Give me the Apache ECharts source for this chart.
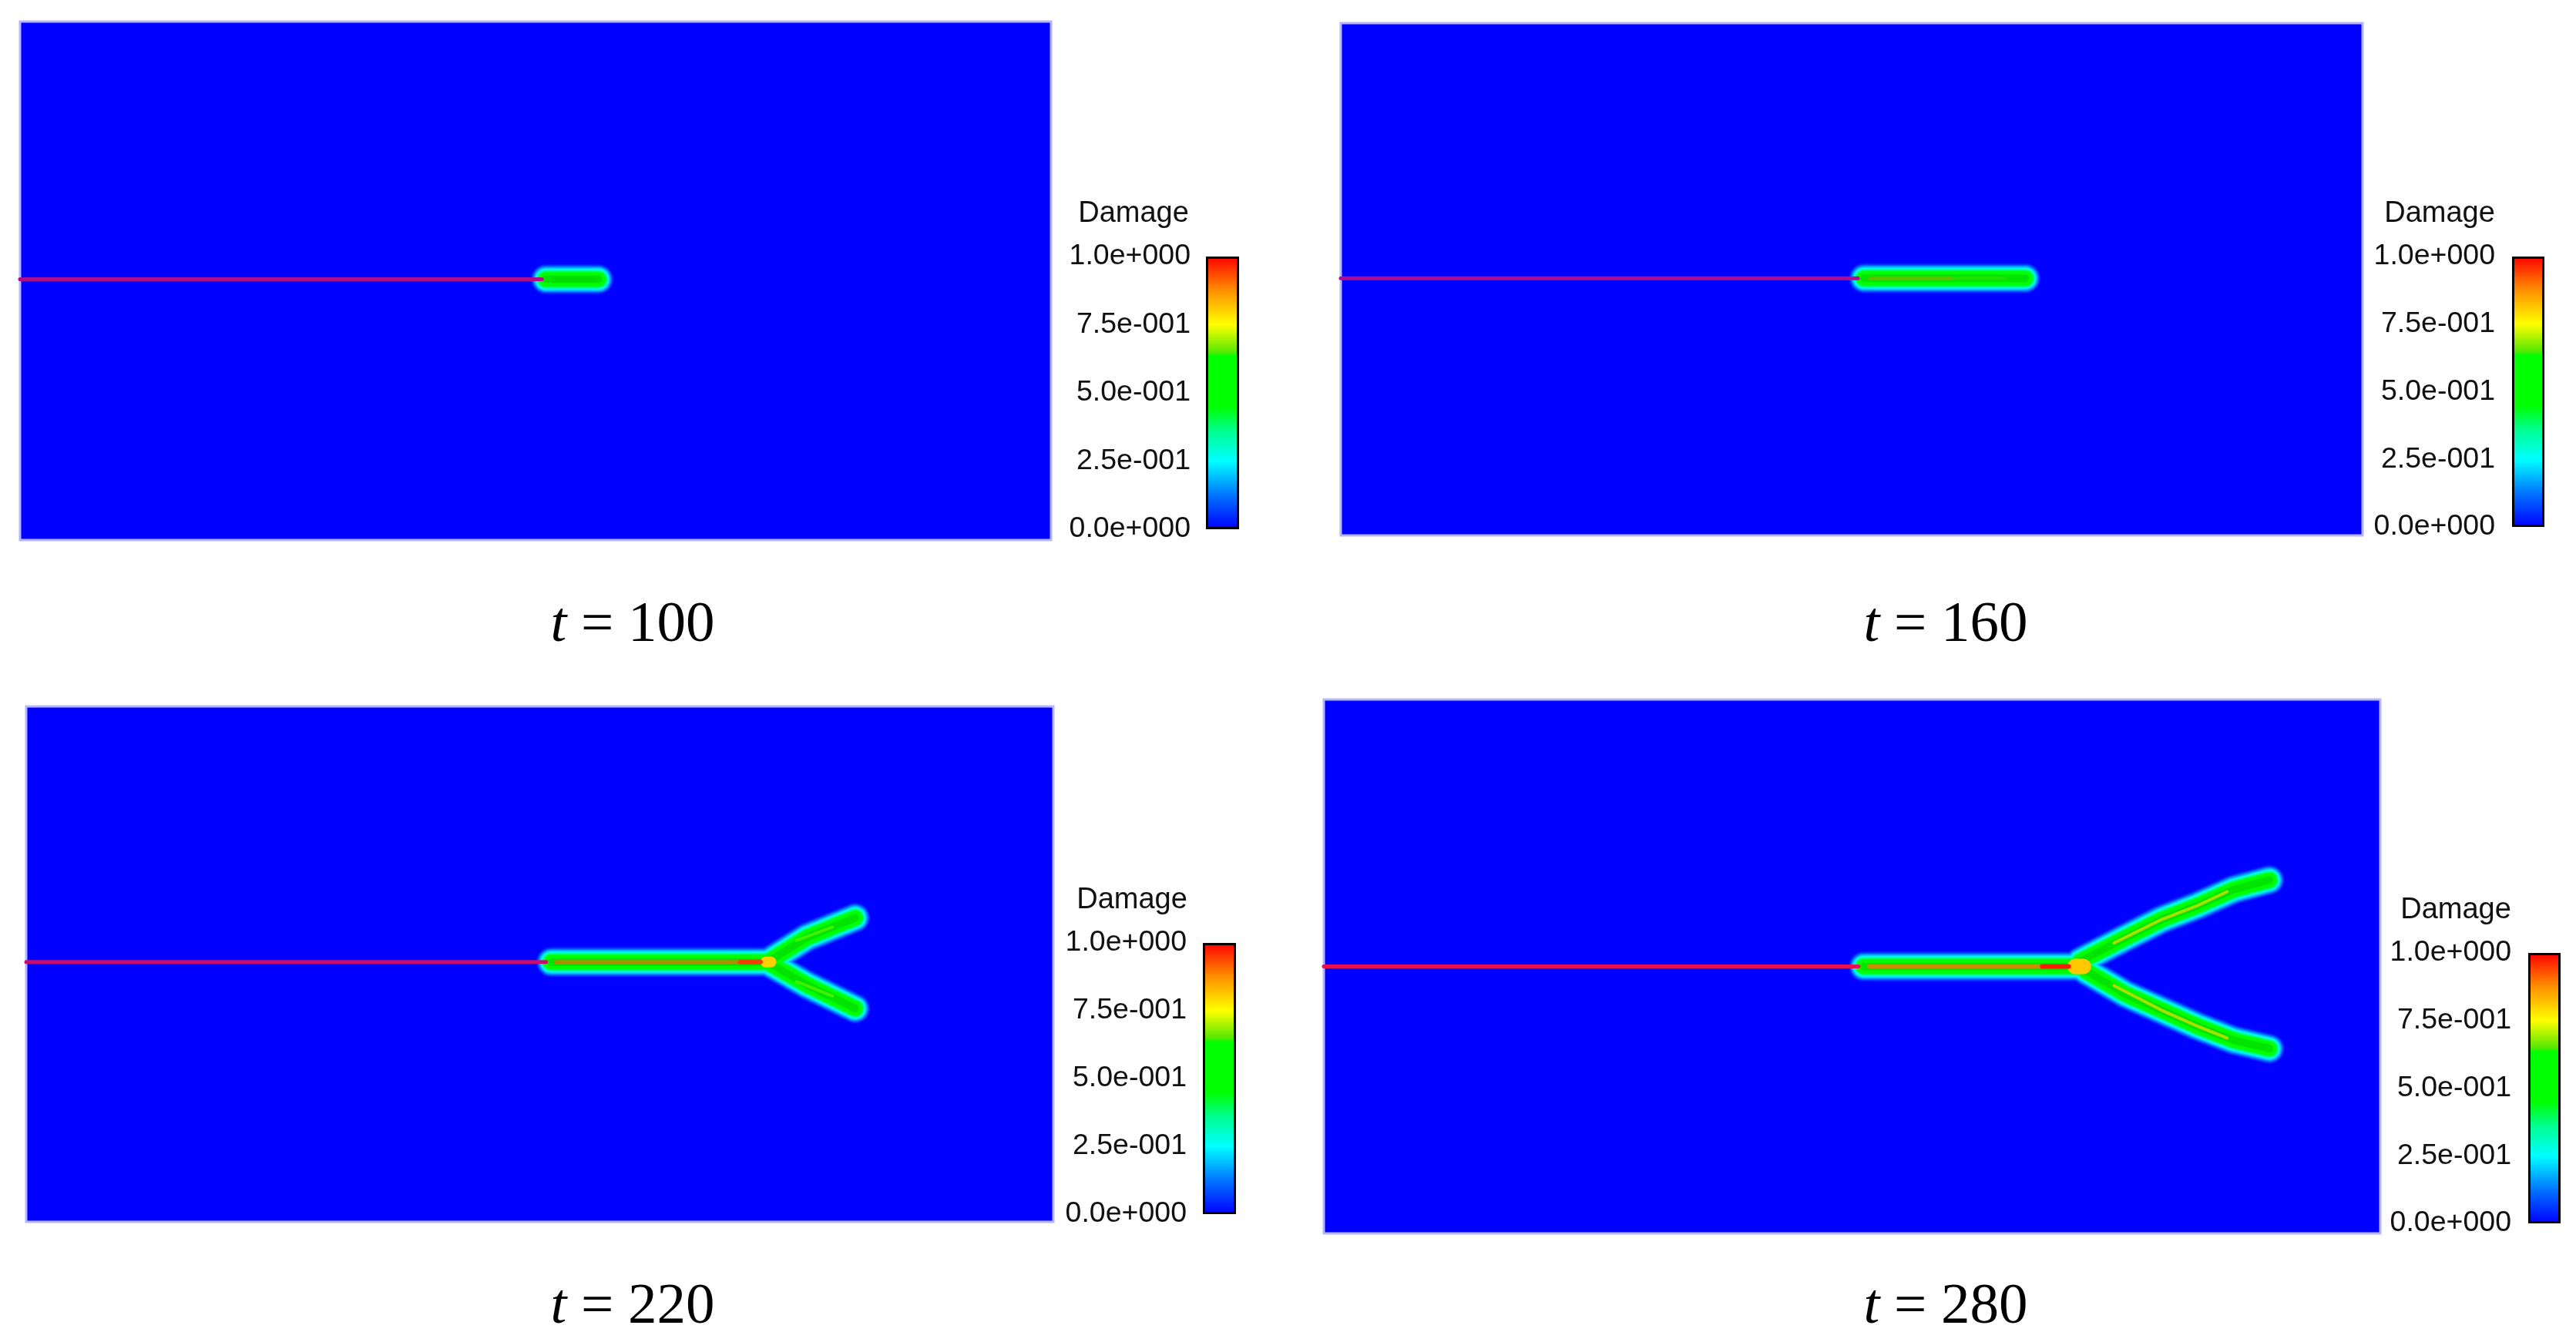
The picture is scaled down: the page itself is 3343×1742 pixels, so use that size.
<!DOCTYPE html>
<html lang="en">
<head>
    <meta charset="UTF-8">
    <title>Damage</title>
    <script src="https://cdn.jsdelivr.net/npm/echarts/dist/echarts.min.js"></script>
    <style>
        html, body { margin: 0; padding: 0; background: #ffffff; }
        #chart { width: 3343px; height: 1742px; }
    </style>
</head>
<body>
<div id="chart"></div>
<script>
// values, plate coordinates x 0-100, y 0-50
var times = [100, 160, 220, 280];
var tickValues = [0, 0.25, 0.5, 0.75, 1];
var tickLabels = ['0.0e+000', '2.5e-001', '5.0e-001', '7.5e-001', '1.0e+000'];

var notch100 = [[0, 25.15], [50.6, 25.15]];
var notch160 = [[0, 25.1], [50.6, 25.1]];
var notch220 = [[0, 25.2], [50.6, 25.2]];
var notch280 = [[0, 25.0], [50.6, 25.0]];

var crack100 = [[51.0, 25.15], [56.1, 25.15]];
var crack160 = [[51.2, 25.1], [67.0, 25.1]];
var main220 = [[51.1, 25.2], [72.5, 25.2]];
var upper220 = [[72.5, 25.4], [76.0, 27.6], [80.7, 29.5]];
var lower220 = [[72.5, 25.0], [76.0, 23.0], [80.7, 20.7]];
var main280 = [[51.1, 25.0], [71.6, 25.0]];
var upper280 = [[71.6, 25.5], [75.9, 27.7], [79.3, 29.4], [82.7, 30.7], [86.1, 32.2], [89.5, 33.1]];
var lower280 = [[72.1, 24.6], [75.9, 22.4], [79.3, 20.9], [82.7, 19.4], [86.1, 18.1], [89.5, 17.3]];

var ridge100 = [[51.8, 25.15], [55.6, 25.15]];
var ridge160a = [[51.8, 25.1], [60.0, 25.1]];
var ridge160b = [[60.0, 25.1], [65.0, 25.1]];
var ridge220 = [[51.6, 25.2], [69.5, 25.2]];
var hot220 = [[69.5, 25.2], [71.5, 25.2]];
var blob220 = [[72.0, 25.2], [72.5, 25.2]];
var ridge280 = [[51.6, 25.0], [68.0, 25.0]];
var hot280 = [[68.0, 25.0], [70.5, 25.0]];
var blob280 = [[71.1, 25.0], [71.9, 25.0]];
var branchUp280 = [[74.8, 27.2], [79.3, 29.4], [82.7, 30.7], [85.5, 32.0]];
var branchLow280 = [[74.8, 23.2], [79.3, 20.9], [82.7, 19.4], [85.5, 18.3]];
var branchUp220 = [[75.0, 27.3], [78.5, 28.6]];
var branchLow220 = [[75.0, 23.3], [78.5, 21.9]];

// layout of each panel, in page pixels
var panels = [
    { plot: [26, 28, 1338, 673], bar: [1565, 333, 43, 354], labelEnd: 1545, damage: [1471, 278], stamp: [821, 812],
      notchColor: '#b00c90',
      cracks: [crack100],
      ridges: [{ path: ridge100, color: '#00dc00', width: 7 }] },
    { plot: [1740, 30, 1326, 665], bar: [3260, 333, 42, 351], labelEnd: 3238, damage: [3166, 278], stamp: [2525, 812],
      notchColor: '#b00c90',
      cracks: [crack160],
      ridges: [{ path: ridge160a, color: '#60c000', width: 5 }, { path: ridge160b, color: '#20e000', width: 4 }] },
    { plot: [34, 917, 1333, 669], bar: [1561, 1224, 43, 352], labelEnd: 1540, damage: [1469, 1169], stamp: [821, 1697],
      notchColor: '#c80c70',
      cracks: [main220, upper220, lower220],
      ridges: [
          { path: branchUp220, color: '#40f000', width: 4 },
          { path: branchLow220, color: '#40f000', width: 4 },
          { path: ridge220, color: '#a89000', width: 5 },
          { path: blob220, color: '#ffd000', width: 14 },
          { path: hot220, color: '#f04000', width: 6 }
      ] },
    { plot: [1718, 908, 1371, 693], bar: [3281, 1237, 42, 351], labelEnd: 3259, damage: [3187, 1182], stamp: [2525, 1697],
      notchColor: '#e81050',
      cracks: [main280, upper280, lower280],
      ridges: [
          { path: branchUp280, color: '#a8e000', width: 4 },
          { path: branchLow280, color: '#a8e000', width: 4 },
          { path: ridge280, color: '#c89000', width: 5 },
          { path: blob280, color: '#ffc800', width: 20 },
          { path: hot280, color: '#f02000', width: 6 }
      ] }
];

// halo around a crack, outermost first
var haloWidths = [40, 38, 36, 34, 32, 30, 28, 26, 24, 22, 20, 18, 10];
var haloColors = ['#0010ff', '#0028ff', '#0048ff', '#0070ff', '#0098ff', '#00c0ff', '#00e4ff', '#00ffe0', '#00ffa8', '#00ff70', '#00ff30', '#00ff00', '#00e400'];

var barStops = [
    { offset: 0, color: '#0000ff' },
    { offset: 0.12, color: '#0070ff' },
    { offset: 0.25, color: '#00ffff' },
    { offset: 0.36, color: '#00ff90' },
    { offset: 0.45, color: '#00ff00' },
    { offset: 0.635, color: '#00ff00' },
    { offset: 0.65, color: '#58e800' },
    { offset: 0.75, color: '#ffff00' },
    { offset: 0.875, color: '#ff9000' },
    { offset: 1, color: '#ff0000' }
];

var chart = echarts.init(document.getElementById('chart'));

var grids = [], xAxes = [], yAxes = [], series = [], titles = [];

function addLine(gridIndex, path, color, width) {
    series.push({
        type: 'line',
        xAxisIndex: gridIndex,
        yAxisIndex: gridIndex,
        data: path,
        symbol: 'none',
        silent: true,
        lineStyle: { color: color, width: width, cap: 'round', join: 'round' }
    });
}

panels.forEach(function (p, i) {
    // plate
    var g = grids.length;
    grids.push({
        left: p.plot[0], top: p.plot[1], width: p.plot[2], height: p.plot[3],
        show: true, backgroundColor: '#0000ff', borderColor: '#b4b4ff', borderWidth: 3
    });
    xAxes.push({ gridIndex: g, type: 'value', min: 0, max: 100, show: false });
    yAxes.push({ gridIndex: g, type: 'value', min: 0, max: 50, show: false });

    haloWidths.forEach(function (w, k) {
        p.cracks.forEach(function (path) { addLine(g, path, haloColors[k], w); });
    });
    p.ridges.forEach(function (r) { addLine(g, r.path, r.color, r.width); });
    addLine(g, [notch100, notch160, notch220, notch280][i], p.notchColor, 5);

    // colour bar
    var b = grids.length;
    grids.push({ left: p.bar[0], top: p.bar[1], width: p.bar[2], height: p.bar[3] });
    xAxes.push({ gridIndex: b, type: 'category', data: ['Damage'], show: false });
    yAxes.push({
        gridIndex: b, type: 'value', min: 0, max: 1, interval: 0.25,
        axisLine: { show: false }, axisTick: { show: false }, splitLine: { show: false },
        axisLabel: {
            margin: p.bar[0] - p.labelEnd,
            padding: [9, 0, 0, 0],
            fontFamily: 'Liberation Sans', fontSize: 37.5, color: '#111111',
            formatter: function (v) { return tickLabels[tickValues.indexOf(v)]; }
        }
    });
    series.push({
        type: 'bar', xAxisIndex: b, yAxisIndex: b, data: [1], barWidth: '100%', silent: true,
        itemStyle: {
            color: new echarts.graphic.LinearGradient(0, 1, 0, 0, barStops),
            borderColor: '#000000', borderWidth: 3
        }
    });

    titles.push({
        text: 'Damage', left: p.damage[0], top: p.damage[1], textAlign: 'center', textVerticalAlign: 'middle',
        padding: 0,
        textStyle: { fontFamily: 'Liberation Sans', fontSize: 38, fontWeight: 'normal', color: '#111111' }
    });
    titles.push({
        text: '{i|t}{n| = ' + times[i] + '}', left: p.stamp[0], top: p.stamp[1], textAlign: 'center', textVerticalAlign: 'middle',
        padding: 0,
        textStyle: {
            fontWeight: 'normal',
            rich: {
                i: { fontFamily: 'Liberation Serif', fontStyle: 'italic', fontWeight: 'normal', fontSize: 75, color: '#000000' },
                n: { fontFamily: 'Liberation Serif', fontWeight: 'normal', fontSize: 75, color: '#000000' }
            }
        }
    });
});

chart.setOption({
    animation: false,
    backgroundColor: '#ffffff',
    title: titles,
    grid: grids,
    xAxis: xAxes,
    yAxis: yAxes,
    series: series
});
</script>
</body>
</html>
